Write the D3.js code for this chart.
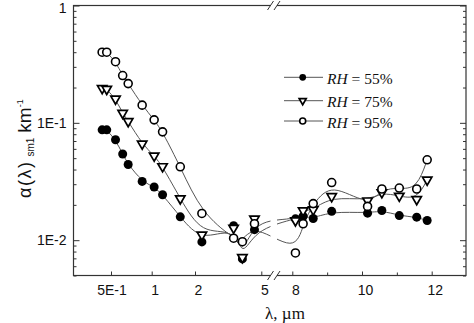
<!DOCTYPE html>
<html>
<head>
<meta charset="utf-8">
<script src="https://cdn.jsdelivr.net/npm/d3@7"></script>
<style>
  html, body { margin: 0; padding: 0; background: #fff; }
  svg { display: block; }
</style>
</head>
<body>
<svg id="chart" width="474" height="323"></svg>
<script>
// Wavelengths (µm) shared by all three humidity series
const wavelengths = [0.43, 0.465, 0.54, 0.61, 0.67, 0.85, 1.04, 1.19, 1.58, 2.2, 3.41, 3.85, 4.55,
                     8.09, 8.31, 8.6, 9.13, 10.16, 10.57, 11.07, 11.57, 11.87];

// Extinction coefficient α(λ), km^-1
const rh55 = [0.0872, 0.0872, 0.0717, 0.0542, 0.0442, 0.0317, 0.0284, 0.0244, 0.0158, 0.00966, 0.0133, 0.00692, 0.0123,
              0.0152, 0.0160, 0.0153, 0.0176, 0.0170, 0.0179, 0.0162, 0.0157, 0.0147];
const rh75 = [0.197, 0.194, 0.160, 0.121, 0.103, 0.0663, 0.0524, 0.0425, 0.0226, 0.0111, 0.0127, 0.00714, 0.0152,
              0.0147, 0.0179, 0.0182, 0.0236, 0.0217, 0.0255, 0.0238, 0.0223, 0.0327];
const rh95 = [0.400, 0.400, 0.332, 0.253, 0.216, 0.1415, 0.106, 0.0838, 0.0422, 0.0169, 0.0104, 0.0097, 0.0138,
              0.00778, 0.0138, 0.0205, 0.031, 0.0194, 0.0273, 0.0278, 0.0273, 0.0484];

const seriesNames = ["55%", "75%", "95%"];

// Axis ticks
const xLeftTicks = [0.5, 1, 2, 5];
const xLeftTickLabels = ["5E-1", "1", "2", "5"];
const xRightTicks = [8, 10, 12];
const xRightTickLabels = ["8", "10", "12"];
const xRightMinor = [9, 11];
const yMajor = [0.01, 0.1, 1];
const yMajorLabels = ["1E-2", "1E-1", "1"];

// ---- layout ----
const L = 73.5, R = 466, T = 5.5, B = 275.5;
const breakL = 270.5, breakR = 277;

const svg = d3.select("#chart");

// Two-segment wavelength axis: log-like spacing up to 5 µm, linear beyond the break
const xLeft = d3.scaleLog().domain([0.5, 1, 2, 5]).range([111, 151.7, 195, 261.3]);
const xRight = d3.scaleLinear().domain([8, 12]).range([292.3, 431.7]);
const x = v => v < 6.5 ? xLeft(v) : xRight(v);

const y = d3.scaleLog().domain([0.005, 1]).range([B, T]);

const yMinor = [];
[0.001, 0.01, 0.1].forEach(dec => { for (let k = 2; k <= 9; k++) { const v = k * dec; if (v >= 0.005 && v < 1) yMinor.push(v); } });

const font = "'Liberation Sans', Arial, sans-serif";
const serif = "'Liberation Serif', 'Times New Roman', serif";
const axisColor = "#333";

// ---- axes ----
function styleAxis(g) {
  g.select(".domain").remove();
  g.selectAll(".tick line").attr("stroke", axisColor).attr("stroke-width", 1);
  g.selectAll(".tick text").attr("fill", "#111").style("font-family", font).style("font-size", "14px");
}

const gyl = svg.append("g").attr("transform", `translate(${L},0)`)
  .call(d3.axisLeft(y).tickValues(yMajor).tickFormat((d, i) => yMajorLabels[i]).tickSizeInner(-6).tickSizeOuter(0).tickPadding(7))
  .call(styleAxis);
// keep the top label inside the canvas
gyl.selectAll(".tick text").filter(d => d === 1).attr("dy", "0.5em");
svg.append("g").attr("transform", `translate(${L},0)`)
  .call(d3.axisLeft(y).tickValues(yMinor).tickFormat("").tickSizeInner(-3).tickSizeOuter(0))
  .call(styleAxis);
svg.append("g").attr("transform", `translate(${R},0)`)
  .call(d3.axisRight(y).tickValues(yMajor).tickFormat("").tickSizeInner(-6).tickSizeOuter(0))
  .call(styleAxis);
svg.append("g").attr("transform", `translate(${R},0)`)
  .call(d3.axisRight(y).tickValues(yMinor).tickFormat("").tickSizeInner(-3).tickSizeOuter(0))
  .call(styleAxis);

const gxl = svg.append("g").attr("transform", `translate(0,${B})`)
  .call(d3.axisBottom(xLeft).tickValues(xLeftTicks).tickFormat((d, i) => xLeftTickLabels[i]).tickSizeInner(-4).tickSizeOuter(0).tickPadding(9.5))
  .call(styleAxis);
gxl.selectAll(".tick text").attr("dx", (d, i) => i === 0 ? 0.5 : 3);
const gxr = svg.append("g").attr("transform", `translate(0,${B})`)
  .call(d3.axisBottom(xRight).tickValues(xRightTicks).tickFormat((d, i) => xRightTickLabels[i]).tickSizeInner(-4).tickSizeOuter(0).tickPadding(9.5))
  .call(styleAxis);
gxr.selectAll(".tick text").attr("dx", 3);
svg.append("g").attr("transform", `translate(0,${B})`)
  .call(d3.axisBottom(xRight).tickValues(xRightMinor).tickFormat("").tickSizeInner(-3).tickSizeOuter(0))
  .call(styleAxis);

// frame
svg.append("rect").attr("x", L).attr("y", T).attr("width", R - L).attr("height", B - T)
  .attr("fill", "none").attr("stroke", axisColor).attr("stroke-width", 1.2);

// ---- curves (smoothed fits), interrupted at the axis break ----
const defs = svg.append("defs");
const clip = defs.append("clipPath").attr("id", "brk");
clip.append("rect").attr("x", L).attr("y", T).attr("width", breakL - L).attr("height", B - T);
clip.append("rect").attr("x", breakR).attr("y", T).attr("width", R - breakR).attr("height", B - T);

const series = [rh55, rh75, rh95].map((vals, i) => ({
  name: seriesNames[i],
  points: wavelengths.map((w, j) => ({ w, v: vals[j] }))
}));

const line = d3.line().x(d => x(d.w)).y(d => y(d.v)).curve(d3.curveBasis);
svg.append("g").attr("clip-path", "url(#brk)")
  .selectAll("path").data(series).join("path")
  .attr("d", d => line(d.points))
  .attr("fill", "none").attr("stroke", "#555").attr("stroke-width", 1);

// ---- markers ----
function drawMarker(g, kind, scale) {
  const s = scale || 1;
  if (kind === 0) {
    g.append("circle").attr("r", 4.5 * s).attr("fill", "#000");
  } else if (kind === 1) {
    g.append("path").attr("d", d3.symbol(d3.symbolTriangle, 38 * s * s)())
      .attr("transform", "rotate(180)")
      .attr("fill", "#fff").attr("stroke", "#000").attr("stroke-width", 1.7);
  } else {
    g.append("circle").attr("r", 4 * s).attr("fill", "#fff").attr("stroke", "#000").attr("stroke-width", 1.6);
  }
}
series.forEach((s, i) => {
  svg.append("g").selectAll("g").data(s.points).join("g")
    .attr("transform", d => `translate(${x(d.w)},${y(d.v)})`)
    .each(function () { drawMarker(d3.select(this), i); });
});

// ---- axis break marks ----
[T, B].forEach(yy => {
  svg.append("line").attr("x1", breakL).attr("x2", breakR).attr("y1", yy).attr("y2", yy)
    .attr("stroke", "#fff").attr("stroke-width", 3);
  [breakL, breakR].forEach(xx => {
    svg.append("line").attr("x1", xx - 3).attr("y1", yy + 4.5).attr("x2", xx + 3).attr("y2", yy - 4.5)
      .attr("stroke", axisColor).attr("stroke-width", 1);
  });
});

// ---- legend ----
const legendRows = [77.3, 100.7, 121];
series.forEach((s, i) => {
  const g = svg.append("g").attr("transform", `translate(0,${legendRows[i]})`);
  g.append("line").attr("x1", 284).attr("x2", 323).attr("stroke", "#555").attr("stroke-width", 1);
  const m = g.append("g").attr("transform", "translate(302.7,0)");
  drawMarker(m, i, 0.75);
  const t = g.append("text").attr("x", 327).attr("y", 6.5)
    .style("font-family", serif).style("font-size", "15.5px").attr("fill", "#111");
  t.append("tspan").style("font-style", "italic").text("RH");
  t.append("tspan").text(" = " + s.name);
});

// ---- axis titles ----
svg.append("text").attr("x", 285).attr("y", 319).attr("text-anchor", "middle")
  .style("font-family", serif).style("font-size", "17px").attr("fill", "#111")
  .text("λ, µm");

const yt = svg.append("text")
  .attr("transform", "translate(31,198) rotate(-90)")
  .style("font-family", font).attr("fill", "#111");
yt.append("tspan").style("font-size", "18px").attr("letter-spacing", "1.5px").text("α(λ)");
yt.append("tspan").style("font-size", "10px").attr("dx", 4).attr("dy", 3).text("sm1");
yt.append("tspan").style("font-size", "19px").attr("dx", 5).attr("dy", -3).text("km");
yt.append("tspan").style("font-size", "9px").attr("dy", -8).text("-1");
</script>
</body>
</html>
